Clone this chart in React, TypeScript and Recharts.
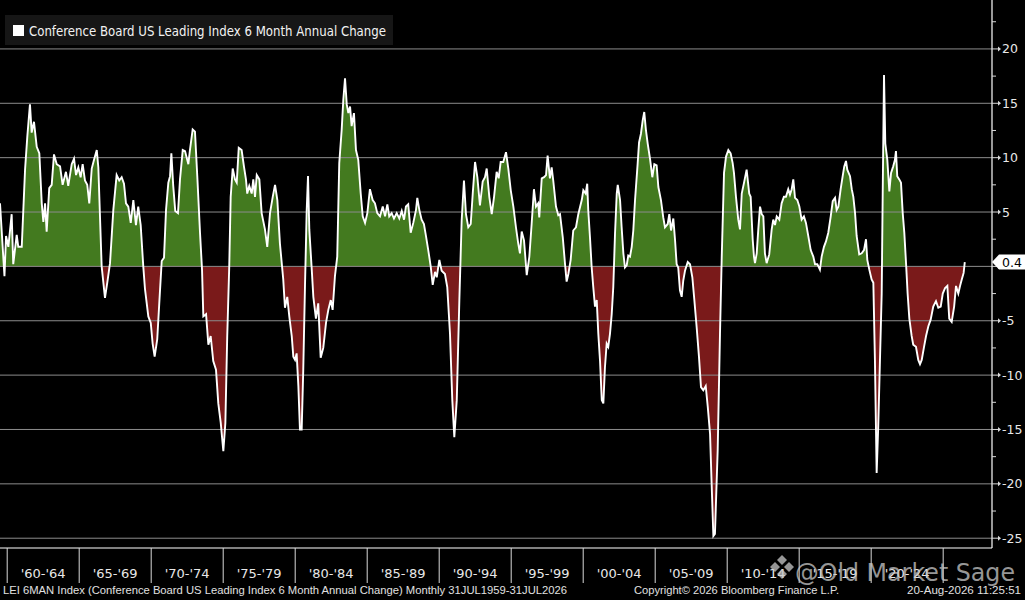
import React from 'react';
import { ComposedChart, Area, Line, XAxis, YAxis, ReferenceLine } from 'recharts';

// ---- data: Conference Board US Leading Index, 6 month annualised change (%) ----
// [decimal year, value]
const lei1959to1964: [number, number][] = [
  [1959.5, 5.8], [1959.81, -0.9], [1959.92, 2.8], [1960.08, 1.8], [1960.31, 4.8], [1960.42, 0.2], [1960.66, 2.9],
  [1960.77, 1.8], [1961.01, 1.8], [1961.24, 8.9], [1961.4, 12.0], [1961.58, 14.9], [1961.7, 12.3], [1961.86, 13.3],
  [1962.05, 11.0], [1962.23, 10.4], [1962.4, 5.8], [1962.51, 4.1], [1962.63, 5.8], [1962.74, 3.2], [1962.92, 7.2],
  [1963.09, 7.5], [1963.25, 10.3], [1963.44, 9.4], [1963.67, 9.2], [1963.85, 7.5], [1964.08, 8.7], [1964.24, 7.4],
  [1964.48, 9.4], [1964.64, 9.9], [1964.78, 8.4], [1964.94, 9.1],
];
const lei1965to1969: [number, number][] = [
  [1965.1, 8.2], [1965.24, 9.4], [1965.4, 7.9], [1965.56, 7.5], [1965.7, 5.8], [1965.87, 9.0], [1966.03, 9.8],
  [1966.22, 10.7], [1966.33, 9.1], [1966.56, 0.0], [1966.79, -2.9], [1966.95, -1.5], [1967.14, 0.3], [1967.37, 5.2],
  [1967.6, 8.4], [1967.78, 7.9], [1967.95, 8.2], [1968.11, 7.6], [1968.25, 5.8], [1968.41, 5.5], [1968.58, 4.0],
  [1968.76, 6.1], [1968.94, 3.8], [1969.1, 5.5], [1969.27, 3.8], [1969.45, 0.0], [1969.57, -2.1], [1969.8, -4.6],
  [1969.97, -5.2],
];
const lei1970s: [number, number][] = [
  [1970.1, -7.1], [1970.24, -8.3], [1970.42, -6.7], [1970.56, -3.4], [1970.73, 0.5], [1970.89, 0.8], [1971.03, 5.2],
  [1971.19, 7.7], [1971.31, 8.3], [1971.4, 10.4], [1971.53, 7.4], [1971.67, 5.1], [1971.86, 4.9], [1972.0, 8.0],
  [1972.19, 10.7], [1972.35, 10.6], [1972.58, 9.4], [1972.69, 10.7], [1972.88, 12.6], [1973.04, 12.4], [1973.2, 8.3],
  [1973.39, 3.1], [1973.53, -0.3], [1973.62, -4.6], [1973.81, -4.4], [1973.97, -7.2], [1974.13, -6.4], [1974.31, -8.7],
  [1974.5, -9.5], [1974.66, -12.6], [1974.83, -14.4], [1975.01, -17.0], [1975.15, -14.4], [1975.28, -6.4],
  [1975.42, 0.0], [1975.52, 6.4], [1975.66, 9.0], [1975.82, 8.0], [1975.94, 7.7], [1976.08, 10.9], [1976.28, 10.7],
  [1976.44, 9.2], [1976.58, 8.0], [1976.67, 6.7], [1976.81, 7.4], [1976.98, 6.7], [1977.09, 8.0], [1977.21, 6.4],
  [1977.33, 8.4], [1977.51, 8.0], [1977.67, 4.9], [1977.9, 3.4], [1978.06, 1.8], [1978.25, 4.9], [1978.44, 6.4],
  [1978.6, 7.5], [1978.76, 6.1], [1978.94, 2.1], [1979.17, -1.2], [1979.29, -3.8], [1979.45, -2.8], [1979.59, -4.6],
  [1979.76, -6.4], [1979.87, -8.3], [1979.99, -8.6],
];
const lei1980s: [number, number][] = [
  [1980.1, -8.0], [1980.22, -11.0], [1980.33, -15.0], [1980.45, -15.0], [1980.56, -9.5], [1980.68, -1.8],
  [1980.8, 5.2], [1980.89, 8.3], [1980.98, 3.4], [1981.15, -0.3], [1981.26, -2.8], [1981.44, -4.8], [1981.6, -3.4],
  [1981.77, -8.4], [1981.95, -7.5], [1982.14, -5.2], [1982.3, -4.0], [1982.47, -3.1], [1982.6, -4.0], [1982.76, -0.9],
  [1982.92, 0.9], [1983.06, 9.5], [1983.23, 12.6], [1983.34, 15.3], [1983.46, 17.3], [1983.58, 14.9], [1983.69, 14.1],
  [1983.81, 14.7], [1983.92, 12.9], [1984.08, 14.1], [1984.22, 10.7], [1984.38, 9.8], [1984.55, 6.7], [1984.69, 4.6],
  [1984.85, 4.0], [1985.01, 4.9], [1985.19, 7.1], [1985.38, 6.1], [1985.54, 5.8], [1985.7, 4.9], [1985.89, 4.6],
  [1986.08, 5.5], [1986.24, 4.6], [1986.4, 5.7], [1986.53, 4.6], [1986.7, 4.9], [1986.86, 4.4], [1987.05, 4.9],
  [1987.23, 4.4], [1987.4, 5.1], [1987.56, 4.3], [1987.69, 5.5], [1987.85, 5.7], [1988.02, 3.1], [1988.2, 4.0],
  [1988.39, 5.2], [1988.48, 6.3], [1988.62, 5.2], [1988.78, 4.3], [1988.94, 3.9], [1989.08, 2.8], [1989.24, 1.5],
  [1989.41, 0.0], [1989.55, -1.7], [1989.71, -0.5], [1989.83, -1.0],
];
const lei1990s: [number, number][] = [
  [1990.01, 0.6], [1990.17, -0.4], [1990.4, -0.7], [1990.56, -1.9], [1990.75, -6.2], [1990.91, -12.3],
  [1991.05, -15.7], [1991.22, -12.3], [1991.4, -3.1], [1991.56, 4.2], [1991.72, 7.9], [1991.86, 4.8], [1992.02, 3.6],
  [1992.19, 3.9], [1992.33, 6.7], [1992.49, 9.6], [1992.65, 8.2], [1992.83, 5.6], [1993.02, 7.8], [1993.18, 8.2],
  [1993.3, 9.0], [1993.48, 6.4], [1993.65, 4.8], [1993.81, 6.4], [1993.99, 8.7], [1994.13, 8.1], [1994.27, 9.6],
  [1994.45, 9.6], [1994.64, 10.5], [1994.8, 9.0], [1994.97, 7.0], [1995.15, 5.5], [1995.33, 3.6], [1995.49, 2.1],
  [1995.61, 1.2], [1995.73, 3.2], [1995.89, 2.4], [1996.08, -0.8], [1996.26, 0.9], [1996.42, 3.9], [1996.58, 7.1],
  [1996.72, 5.5], [1996.88, 5.8], [1996.95, 4.5], [1997.12, 8.1], [1997.28, 8.2], [1997.42, 8.4], [1997.53, 10.2],
  [1997.69, 8.1], [1997.81, 9.1], [1997.92, 7.9], [1998.11, 5.5], [1998.27, 4.7], [1998.39, 4.8], [1998.58, 2.7],
  [1998.74, 0.2], [1998.85, -1.4], [1998.97, -0.7], [1999.13, 0.6], [1999.31, 3.3], [1999.5, 3.6], [1999.66, 4.8],
  [1999.9, 6.1],
];
const lei2000s: [number, number][] = [
  [2000.01, 7.0], [2000.17, 6.7], [2000.28, 7.6], [2000.35, 5.2], [2000.47, 2.7], [2000.59, -0.1], [2000.7, -1.9],
  [2000.82, -3.7], [2000.94, -3.1], [2001.05, -6.2], [2001.17, -8.7], [2001.29, -12.3], [2001.4, -12.6],
  [2001.51, -9.3], [2001.63, -7.1], [2001.74, -7.4], [2001.86, -6.2], [2001.98, -4.4], [2002.09, -1.9], [2002.21, 3.0],
  [2002.33, 6.7], [2002.4, 7.5], [2002.56, 6.1], [2002.67, 3.6], [2002.79, 1.2], [2002.9, -0.1], [2003.02, 0.1],
  [2003.13, 1.0], [2003.25, 0.9], [2003.37, 1.8], [2003.48, 3.3], [2003.6, 6.1], [2003.78, 9.4], [2003.88, 11.4],
  [2004.01, 12.2], [2004.13, 13.4], [2004.24, 14.2], [2004.36, 12.5], [2004.48, 11.3], [2004.64, 9.9], [2004.8, 8.2],
  [2004.94, 9.4], [2005.1, 9.3], [2005.22, 7.3], [2005.4, 6.1], [2005.56, 4.5], [2005.68, 3.6], [2005.87, 3.9],
  [2005.98, 4.8], [2006.1, 3.3], [2006.26, 4.4], [2006.38, 2.4], [2006.49, 0.2], [2006.6, -0.1], [2006.72, -2.2],
  [2006.84, -2.8], [2006.95, -1.3], [2007.07, -0.4], [2007.26, 0.4], [2007.42, 0.2], [2007.58, -1.0], [2007.72, -3.1],
  [2007.88, -5.6], [2008.04, -8.3], [2008.18, -11.1], [2008.34, -11.4], [2008.51, -11.0], [2008.65, -12.9],
  [2008.81, -15.4], [2008.92, -20.0], [2009.04, -24.8], [2009.15, -24.6], [2009.34, -16.9], [2009.5, -6.2],
  [2009.62, 0.8], [2009.78, 8.6], [2009.92, 10.1],
];
const lei2010s: [number, number][] = [
  [2010.08, 10.7], [2010.24, 10.4], [2010.38, 9.5], [2010.47, 8.6], [2010.61, 6.4], [2010.77, 4.3], [2010.89, 3.4],
  [2011.01, 6.7], [2011.17, 7.7], [2011.35, 8.9], [2011.53, 6.7], [2011.63, 6.4], [2011.77, 2.5], [2011.86, 0.9],
  [2011.93, 0.3], [2012.05, 1.2], [2012.16, 3.4], [2012.28, 5.5], [2012.4, 4.8], [2012.51, 4.6], [2012.62, 1.2],
  [2012.74, 0.3], [2012.92, 1.1], [2013.09, 3.4], [2013.2, 4.3], [2013.32, 3.8], [2013.44, 4.6], [2013.62, 4.3],
  [2013.78, 5.8], [2013.94, 6.4], [2014.08, 6.4], [2014.24, 7.1], [2014.36, 6.6], [2014.48, 7.1], [2014.59, 8.0],
  [2014.71, 6.3], [2014.87, 6.1], [2015.01, 5.5], [2015.17, 4.3], [2015.33, 4.6], [2015.47, 4.0], [2015.63, 2.8],
  [2015.8, 1.5], [2015.98, 0.9], [2016.1, 0.2], [2016.26, 0.2], [2016.44, -0.3], [2016.56, 0.9], [2016.72, 1.8],
  [2016.86, 2.3], [2017.02, 3.1], [2017.19, 4.6], [2017.33, 6.0], [2017.49, 6.3], [2017.6, 5.2], [2017.72, 5.5],
  [2017.88, 7.1], [2018.02, 8.3], [2018.13, 9.2], [2018.25, 9.7], [2018.34, 8.9], [2018.53, 8.3], [2018.65, 7.1],
  [2018.76, 6.4], [2018.88, 4.9], [2018.99, 2.8], [2019.17, 1.1], [2019.34, 1.2], [2019.5, 1.5], [2019.64, 2.5],
  [2019.73, 0.6], [2019.87, -0.3],
];
const lei2020s: [number, number][] = [
  [2020.03, -1.2], [2020.15, -1.5], [2020.26, -8.6], [2020.38, -19.0], [2020.49, -14.7], [2020.61, -8.6],
  [2020.73, -2.5], [2020.8, 6.7], [2020.89, 17.6], [2020.98, 11.3], [2021.12, 9.8], [2021.26, 6.9], [2021.38, 8.6],
  [2021.53, 9.2], [2021.65, 9.8], [2021.72, 10.6], [2021.81, 8.3], [2021.95, 8.0], [2022.07, 7.7], [2022.19, 4.9],
  [2022.3, 3.1], [2022.42, 0.3], [2022.53, -2.5], [2022.65, -4.8], [2022.81, -6.4], [2022.92, -7.2], [2023.11, -7.4],
  [2023.27, -8.6], [2023.39, -9.0], [2023.51, -8.6], [2023.67, -7.4], [2023.81, -6.4], [2023.97, -5.5],
  [2024.13, -4.9], [2024.31, -3.7], [2024.5, -3.2], [2024.66, -3.8], [2024.83, -3.7], [2024.97, -2.5], [2025.13, -2.0],
  [2025.29, -1.8], [2025.42, -4.8], [2025.59, -5.1], [2025.76, -3.7], [2025.89, -1.8], [2026.05, -2.5],
  [2026.17, -1.8], [2026.29, -1.2], [2026.42, -0.6], [2026.5, 0.4],
];

const periodStarts = [1960, 1965, 1970, 1975, 1980, 1985, 1990, 1995, 2000, 2005, 2010, 2015, 2020, 2025];
const gridValues = [-25, -20, -15, -10, -5, 0, 5, 10, 15, 20];
const minorValues = [-22.5, -17.5, -12.5, -7.5, -2.5, 2.5, 7.5, 12.5, 17.5, 22.5];

const SERIES_NAME = 'Conference Board US Leading Index 6 Month Annual Change';
const FOOTER_LEFT =
  'LEI 6MAN Index (Conference Board US Leading Index 6 Month Annual Change) Monthly 31JUL1959-31JUL2026';
const FOOTER_MID = 'Copyright\u00A9 2026 Bloomberg Finance L.P.';
const FOOTER_RIGHT = '20-Aug-2026 11:25:51';
const WATERMARK = '@Old Market Sage';

// ---- layout ----
const W = 1025;
const H = 600;
const Y_AXIS_W = 33;
const X_AXIS_H = 52;
const PLOT_W = W - Y_AXIS_W;
const PLOT_H = H - X_AXIS_H;
const Y_DOMAIN: [number, number] = [-25.9, 24.5];
const X_DOMAIN: [number, number] = [1959.5, 2028.39];
const GREEN = '#437a1f';
const RED = '#7a1a1a';
const FONT = '"DejaVu Sans", "Noto Sans", sans-serif';
const SMALL_FONT = '"Liberation Sans", Arial, sans-serif';

const data = [
  ...lei1959to1964, ...lei1965to1969, ...lei1970s, ...lei1980s, ...lei1990s, ...lei2000s, ...lei2010s, ...lei2020s,
].map(([t, v]) => ({ t, v }));
const lastValue = data[data.length - 1].v;
const yTicks = [...gridValues, ...minorValues, lastValue].sort((a, b) => a - b);
const zeroOffset = Y_DOMAIN[1] / (Y_DOMAIN[1] - Y_DOMAIN[0]);
const halfPeriodPx = (2.5 * PLOT_W) / (X_DOMAIN[1] - X_DOMAIN[0]);

const YTick = (props: any) => {
  const { x, y, payload } = props;
  const v = payload.value;
  if (v === lastValue) {
    return (
      <g>
        <polygon
          points={`${x},${y} ${x + 7},${y - 7.5} ${x + 40},${y - 7.5} ${x + 40},${y + 7.5} ${x + 7},${y + 7.5}`}
          fill="#ffffff"
        />
        <text x={x + 10} y={y + 4.5} fontSize={12.5} fill="#000" fontFamily={FONT}>
          {String(v)}
        </text>
      </g>
    );
  }
  if (Math.abs(v % 5) > 0.01) {
    return <line x1={x} y1={y} x2={x + 4} y2={y} stroke="#d8d8d8" strokeWidth={1} />;
  }
  return (
    <g>
      <line x1={x} y1={y} x2={x + 6} y2={y} stroke="#d8d8d8" strokeWidth={1} />
      <polygon points={`${x + 6},${y - 2.5} ${x + 9},${y} ${x + 6},${y + 2.5}`} fill="#d8d8d8" />
      {v !== 0 && (
        <text x={x + 10} y={y + 4.5} fontSize={12.5} fill="#e8e8e8" fontFamily={FONT}>
          {String(v)}
        </text>
      )}
    </g>
  );
};

const XTick = (props: any) => {
  const { x, y, payload } = props;
  const yr = payload.value as number;
  const a = String(yr % 100).padStart(2, '0');
  const b = String((yr + 4) % 100).padStart(2, '0');
  return (
    <g>
      <line x1={x} y1={y} x2={x} y2={y + 35} stroke="#d8d8d8" strokeWidth={1} />
      {yr < 2025 && (
        <text x={x + halfPeriodPx} y={y + 30} textAnchor="middle" fontSize={13} fill="#e8e8e8" fontFamily={FONT}>
          {`'${a}-'${b}`}
        </text>
      )}
    </g>
  );
};

export default function App() {
  return (
    <div
      style={{
        position: 'fixed',
        left: 0,
        top: 0,
        width: W,
        height: H,
        background: '#000',
        overflow: 'hidden',
      }}
    >
      <ComposedChart width={W} height={H} data={data} margin={{ top: 0, right: 0, bottom: 0, left: 0 }}>
        <defs>
          <linearGradient id="leiSplit" x1="0" y1="0" x2="0" y2={PLOT_H} gradientUnits="userSpaceOnUse">
            <stop offset={zeroOffset} stopColor={GREEN} />
            <stop offset={zeroOffset} stopColor={RED} />
          </linearGradient>
        </defs>
        <XAxis
          dataKey="t"
          type="number"
          domain={X_DOMAIN}
          allowDataOverflow
          ticks={periodStarts}
          interval={0}
          height={X_AXIS_H}
          tickSize={0}
          tickMargin={0}
          tickLine={false}
          axisLine={{ stroke: '#ffffff', strokeWidth: 1.2 }}
          tick={<XTick />}
        />
        <YAxis
          orientation="right"
          type="number"
          domain={Y_DOMAIN}
          allowDataOverflow
          ticks={yTicks}
          interval={0}
          width={Y_AXIS_W}
          tickSize={0}
          tickMargin={0}
          tickLine={false}
          axisLine={{ stroke: '#ffffff', strokeWidth: 1.2 }}
          tick={<YTick />}
        />
        <Area
          dataKey="v"
          type="linear"
          baseValue={0}
          fill="url(#leiSplit)"
          fillOpacity={1}
          stroke="none"
          dot={false}
          activeDot={false}
          isAnimationActive={false}
        />
        {gridValues.map((g) => (
          <ReferenceLine key={g} y={g} stroke="#8c8c8c" strokeWidth={1} />
        ))}
        <Line
          dataKey="v"
          type="linear"
          stroke="#ffffff"
          strokeWidth={1.9}
          dot={false}
          activeDot={false}
          isAnimationActive={false}
        />
      </ComposedChart>
      <svg
        width={W}
        height={H}
        style={{ position: 'absolute', left: 0, top: 0, pointerEvents: 'none' }}
      >
        <rect x={5} y={15} width={388} height={30} fill="#161616" />
        <rect x={13} y={25} width={11} height={11} fill="#ffffff" />
        <text x={29} y={36} fontSize={14} fill="#f2f2f2" fontFamily={FONT} textLength={357} lengthAdjust="spacingAndGlyphs">
          {SERIES_NAME}
        </text>
        <g fill="rgba(200,200,200,0.75)">
          <polygon points="782,555 787,560 782,565 777,560" />
          <polygon points="782,569 787,574 782,579 777,574" />
          <polygon points="775,562 780,567 775,572 770,567" />
          <polygon points="789,562 794,567 789,572 784,567" />
        </g>
        <text
          x={795}
          y={581}
          fontSize={24}
          fill="rgba(200,200,200,0.75)"
          fontFamily={FONT}
          textLength={220}
          lengthAdjust="spacingAndGlyphs"
        >
          {WATERMARK}
        </text>
        <text x={3} y={594} fontSize={11.5} fill="#e0e0e0" fontFamily={SMALL_FONT} textLength={564} lengthAdjust="spacingAndGlyphs">
          {FOOTER_LEFT}
        </text>
        <text x={634} y={594} fontSize={11.5} fill="#e0e0e0" fontFamily={SMALL_FONT} textLength={205} lengthAdjust="spacingAndGlyphs">
          {FOOTER_MID}
        </text>
        <text
          x={1021}
          y={594}
          textAnchor="end"
          fontSize={11.5}
          fill="#e0e0e0"
          fontFamily={SMALL_FONT}
          textLength={114}
          lengthAdjust="spacingAndGlyphs"
        >
          {FOOTER_RIGHT}
        </text>
      </svg>
    </div>
  );
}
